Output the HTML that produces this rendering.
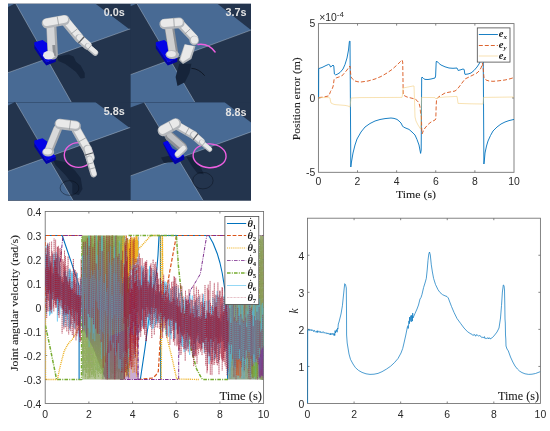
<!DOCTYPE html>
<html><head><meta charset="utf-8"><title>Figure</title>
<style>html,body{margin:0;padding:0;background:#fff}svg{display:block}</style>
</head><body>
<svg width="550" height="431" viewBox="0 0 550 431">
<rect width="550" height="431" fill="#fff"/>
<defs><clipPath id="cp1"><rect x="8" y="3.7" width="122.6" height="98.8"/></clipPath><clipPath id="cp2"><rect x="130.4" y="3.7" width="120.6" height="98.8"/></clipPath><clipPath id="cp3"><rect x="8" y="102.3" width="122.6" height="98.3"/></clipPath><clipPath id="cp4"><rect x="130.4" y="102.3" width="120.6" height="98.3"/></clipPath></defs>
<rect x="8" y="3.7" width="243" height="196.9" fill="#23344d"/>
<g clip-path="url(#cp1)">
<rect x="8" y="3.7" width="122.4" height="98.6" fill="#23344d"/>
<polygon points="15.8,3.7 95.5,3.7 130.4,30.0 130.4,28.8 46.9,58.8" fill="#486a94" />
<polygon points="8.0,72.7 46.9,58.8 71.4,102.3 8.0,102.3" fill="#486a94" />
<polygon points="8.0,3.7 14.5,3.7 8.0,6.9" fill="#486a94" />
<path d="M15.8,3.7L71.4,102.3M8,72.7L130.4,28.8" stroke="#cfd9e6" stroke-opacity="0.7" stroke-width="0.55" fill="none"/>
<polygon points="57.5,56.6 68.6,54.4 73.6,56.6 76.0,61.8 80.7,65.5 84.7,72.9 84.7,78.1 80.7,78.5 76.0,72.0 70.5,67.7 64.9,63.7 58.4,60.9" fill="#16243a" />
<polygon points="34.3,44.8 43.3,58.3 46.5,62.2 55.8,58.5 55.8,61.8 46.3,65.6 43.3,61.8 34.3,48.2" fill="#0000a8" />
<polygon points="34.3,42.3 42.6,39.9 47.5,43.5 47.5,52.5 54.7,56.6 55.8,58.5 46.5,62.2 43.3,58.3 34.3,44.8" fill="#0404e6" />
<path d="M52.8,54.5L51.4,27.5" stroke="#a6a9ad" stroke-width="10.2" stroke-linecap="round" fill="none"/>
<path d="M51.9,54.3L50.5,27.3" stroke="#d4d5d7" stroke-width="7.343999999999999" stroke-linecap="round" fill="none"/>
<path d="M54.6,56.0L53.8,45.0" stroke="#8d9095" stroke-width="3.0" stroke-linecap="butt" fill="none"/>
<ellipse cx="48.6" cy="55.2" rx="5.6" ry="4.2" fill="#e9e9e9"/>
<path d="M66.4,22.5L79.4,38.2" stroke="#b4b7bb" stroke-width="9.4" stroke-linecap="round" fill="none"/>
<path d="M67.0,21.7L80.0,37.4" stroke="#e9e9e9" stroke-width="6.768" stroke-linecap="round" fill="none"/>
<path d="M79.4,38.2L87.6,45.6" stroke="#b4b7bb" stroke-width="8.6" stroke-linecap="round" fill="none"/>
<path d="M79.9,37.5L88.1,44.9" stroke="#e9e9e9" stroke-width="6.191999999999999" stroke-linecap="round" fill="none"/>
<path d="M87.6,46.2L95.2,52.8" stroke="#b4b7bb" stroke-width="6.0" stroke-linecap="round" fill="none"/>
<path d="M88.0,45.6L95.6,52.2" stroke="#e9e9e9" stroke-width="4.32" stroke-linecap="round" fill="none"/>
<path d="M70.5,34.4L77.5,28.8" stroke="#8d9095" stroke-width="0.7" fill="none"/>
<path d="M78.4,43.1L84.2,36.7" stroke="#5a5d63" stroke-width="1.3" fill="none"/>
<path d="M87.4,49.9L91.6,45.1" stroke="#8d9095" stroke-width="0.7" fill="none"/>
<path d="M46.8,23.2L64.6,20.0" stroke="#b4b7bb" stroke-width="10.2" stroke-linecap="round" fill="none"/>
<path d="M46.6,22.3L64.4,19.1" stroke="#e9e9e9" stroke-width="7.343999999999999" stroke-linecap="round" fill="none"/>
<path d="M57.2,16.4L58.8,25.6" stroke="#8d9095" stroke-width="0.7" fill="none"/>
<text x="103.8" y="16.3" font-family='"Liberation Sans", sans-serif' font-weight="bold" font-size="10.8" fill="#e4e4e4">0.0s</text>
</g>
<g clip-path="url(#cp2)">
<rect x="130.4" y="3.7" width="120.6" height="98.6" fill="#23344d"/>
<polygon points="137.0,3.7 217.4,3.7 251.0,30.1 251.0,30.1 170.1,60.0" fill="#486a94" />
<polygon points="130.4,74.7 170.1,60.0 194.9,102.3 130.4,102.3" fill="#486a94" />
<polygon points="130.4,3.7 136.5,3.7 130.4,6.2" fill="#486a94" />
<path d="M137.0,3.7L194.9,102.3M130.4,74.7L251.0,30.1" stroke="#cfd9e6" stroke-opacity="0.7" stroke-width="0.55" fill="none"/>
<polygon points="179.3,63.7 191.4,63.7 189.5,72.9 184.9,82.2 177.5,85.9 175.6,77.0" fill="#16243a" />
<path d="M191.4,68.3Q198.8,68.6 204.7,75.7" stroke="#080d16" stroke-width="0.7" fill="none"/>
<path d="M197.9,44.5Q208.5,43 215.1,52" stroke="#ee5fe0" stroke-width="1.4" fill="none" stroke-linecap="round"/>
<polygon points="155.8,44.8 164.8,58.3 168.0,62.2 177.3,58.5 177.3,61.8 167.8,65.6 164.8,61.8 155.8,48.2" fill="#0000a8" />
<polygon points="155.8,42.3 164.1,39.9 169.0,43.5 169.0,52.5 176.2,56.6 177.3,58.5 168.0,62.2 164.8,58.3 155.8,44.8" fill="#0404e6" />
<path d="M173.3,52.5L169.5,28.6" stroke="#8d9095" stroke-width="9.6" stroke-linecap="round" fill="none"/>
<path d="M172.5,52.3L168.7,28.4" stroke="#cfcfcf" stroke-width="6.912" stroke-linecap="round" fill="none"/>
<ellipse cx="172.3" cy="54.6" rx="6.8" ry="4.4" fill="#b4b7bb"/><ellipse cx="171.3" cy="54" rx="4.6" ry="3" fill="#e9e9e9"/>
<path d="M181.6,25.2L194.0,38.4" stroke="#b4b7bb" stroke-width="8.6" stroke-linecap="round" fill="none"/>
<path d="M182.1,24.5L194.5,37.7" stroke="#e9e9e9" stroke-width="6.191999999999999" stroke-linecap="round" fill="none"/>
<circle cx="194.2" cy="40.5" r="4.7" fill="#b4b7bb"/><circle cx="194.5" cy="39.9" r="3.6" fill="#e9e9e9"/>
<polygon points="184.5,44.2 195.5,46.0 191.4,59.0 183.0,64.0 179.0,60.3" fill="#b4b7bb" />
<polygon points="185.0,44.6 193.8,46.2 189.8,57.6 182.8,62.0 180.3,59.6" fill="#e9e9e9" />
<path d="M184.4,34.4L190.6,28.6" stroke="#8d9095" stroke-width="0.7" fill="none"/>
<path d="M164.7,24.0L179.2,22.9" stroke="#b4b7bb" stroke-width="10.6" stroke-linecap="round" fill="none"/>
<path d="M164.5,23.1L179.0,22.0" stroke="#e9e9e9" stroke-width="7.632" stroke-linecap="round" fill="none"/>
<path d="M173.7,17.6L174.3,27.2" stroke="#8d9095" stroke-width="0.7" fill="none"/>
<text x="225.6" y="16.3" font-family='"Liberation Sans", sans-serif' font-weight="bold" font-size="10.8" fill="#e4e4e4">3.7s</text>
</g>
<g clip-path="url(#cp3)">
<rect x="8" y="102.3" width="122.4" height="98.3" fill="#23344d"/>
<polygon points="15.8,102.3 95.5,102.3 130.4,128.6 130.4,127.4 47.8,157.0" fill="#486a94" />
<polygon points="8.0,171.3 47.8,157.0 73.2,200.6 8.0,200.6" fill="#486a94" />
<polygon points="8.0,102.3 14.5,102.3 8.0,105.5" fill="#486a94" />
<path d="M15.8,102.3L73.2,200.6M8,171.3L130.4,127.4" stroke="#cfd9e6" stroke-opacity="0.7" stroke-width="0.55" fill="none"/>
<polygon points="52.8,159.5 65.8,162.3 75.1,170.7 80.7,178.0 82.5,189.0 78.8,195.0 72.3,193.8 72.3,183.7 64.9,174.4 55.6,165.0" fill="#16243a" />
<ellipse cx="69.5" cy="188" rx="9.4" ry="7.4" stroke="#080d16" stroke-opacity="0.7" stroke-width="0.6" fill="none"/>
<ellipse cx="78.5" cy="155" rx="14.2" ry="12.4" stroke="#ee5fe0" stroke-width="1.4" fill="none"/>
<polygon points="34.3,143.1 43.3,156.6 46.5,160.5 55.8,156.8 55.8,160.1 46.3,163.9 43.3,160.1 34.3,146.5" fill="#0000a8" />
<polygon points="34.3,140.6 42.6,138.2 47.5,141.8 47.5,150.8 54.7,154.9 55.8,156.8 46.5,160.5 43.3,156.6 34.3,143.1" fill="#0404e6" />
<path d="M48.8,150.5L57.6,129.0" stroke="#a6a9ad" stroke-width="8.6" stroke-linecap="round" fill="none"/>
<path d="M48.1,150.2L56.9,128.7" stroke="#d8d9da" stroke-width="6.191999999999999" stroke-linecap="round" fill="none"/>
<ellipse cx="48.2" cy="152.1" rx="6" ry="4.4" fill="#b4b7bb"/><ellipse cx="47.6" cy="151.5" rx="4.4" ry="3" fill="#e9e9e9"/>
<path d="M76.2,129.8L87.2,149.3" stroke="#b4b7bb" stroke-width="9.4" stroke-linecap="round" fill="none"/>
<path d="M76.8,129.3L87.8,148.8" stroke="#e9e9e9" stroke-width="6.768" stroke-linecap="round" fill="none"/>
<path d="M87.4,149.3L90.2,157.7" stroke="#b4b7bb" stroke-width="9.2" stroke-linecap="round" fill="none"/>
<path d="M88.0,149.0L90.8,157.4" stroke="#e9e9e9" stroke-width="6.624" stroke-linecap="round" fill="none"/>
<path d="M89.2,159.0L93.6,174.0" stroke="#b4b7bb" stroke-width="6.6" stroke-linecap="round" fill="none"/>
<path d="M89.7,158.7L94.1,173.7" stroke="#e9e9e9" stroke-width="4.752" stroke-linecap="round" fill="none"/>
<path d="M78.1,142.2L85.9,137.8" stroke="#8d9095" stroke-width="0.7" fill="none"/>
<path d="M84.5,155.3L93.1,152.7" stroke="#5a5d63" stroke-width="1.2" fill="none"/>
<path d="M87.1,164.5L93.9,162.5" stroke="#8d9095" stroke-width="0.7" fill="none"/>
<path d="M88.8,169.4L95.2,167.6" stroke="#8d9095" stroke-width="0.7" fill="none"/>
<path d="M59.8,124.0L75.6,126.0" stroke="#b4b7bb" stroke-width="10.4" stroke-linecap="round" fill="none"/>
<path d="M59.7,123.1L75.5,125.1" stroke="#e9e9e9" stroke-width="7.4879999999999995" stroke-linecap="round" fill="none"/>
<path d="M70.6,120.0L69.4,129.6" stroke="#8d9095" stroke-width="0.7" fill="none"/>
<text x="103.8" y="115.2" font-family='"Liberation Sans", sans-serif' font-weight="bold" font-size="10.8" fill="#e4e4e4">5.8s</text>
</g>
<g clip-path="url(#cp4)">
<rect x="130.4" y="102.3" width="120.6" height="98.3" fill="#23344d"/>
<polygon points="144.2,102.3 224.6,102.3 251.0,122.5 251.0,131.9 178.0,158.5" fill="#486a94" />
<polygon points="130.4,175.9 178.0,158.5 203.2,200.6 130.4,200.6" fill="#486a94" />
<polygon points="130.4,102.3 145.0,102.3 130.4,107.5" fill="#486a94" />
<path d="M144.2,102.3L203.2,200.6M130.4,175.9L251.0,131.9" stroke="#cfd9e6" stroke-opacity="0.7" stroke-width="0.55" fill="none"/>
<polygon points="161.0,157.4 170.4,155.6 174.0,162.0 164.0,163.0" fill="#16243a" />
<polygon points="186.2,156.5 193.6,157.5 201.0,167.7 203.8,174.2 197.3,173.2 191.7,165.8" fill="#16243a" />
<ellipse cx="202.9" cy="180.6" rx="10.2" ry="8.3" stroke="#080d16" stroke-opacity="0.7" stroke-width="0.6" fill="none"/>
<ellipse cx="209.6" cy="155.8" rx="16.5" ry="11.9" transform="rotate(3 209.6 155.8)" stroke="#ee5fe0" stroke-width="1.4" fill="none"/>
<polygon points="163.0,143.8 167.6,141.5 172.3,149.5 184.3,156.2 184.3,159.6 175.0,164.3 170.4,158.6" fill="#0000a8" />
<polygon points="163.0,142.6 167.6,140.6 172.3,148.2 184.3,155.4 175.0,160.6 170.4,155.2" fill="#0404e6" />
<path d="M169.5,136.1L182.3,147.1" stroke="#8d9095" stroke-width="9.4" stroke-linecap="round" fill="none"/>
<path d="M169.8,135.3L182.6,146.3" stroke="#bfc1c4" stroke-width="5.64" stroke-linecap="round" fill="none"/>
<path d="M184.0,148.6L178.0,154.4" stroke="#b4b7bb" stroke-width="6.6" stroke-linecap="round" fill="none"/>
<path d="M183.5,148.1L177.5,153.9" stroke="#e9e9e9" stroke-width="4.752" stroke-linecap="round" fill="none"/>
<path d="M178.4,126.4L193.6,135.2" stroke="#b4b7bb" stroke-width="8.4" stroke-linecap="round" fill="none"/>
<path d="M178.8,125.7L194.0,134.5" stroke="#e9e9e9" stroke-width="6.048" stroke-linecap="round" fill="none"/>
<path d="M193.6,135.2L201.0,141.7" stroke="#b4b7bb" stroke-width="7.8" stroke-linecap="round" fill="none"/>
<path d="M194.0,134.6L201.4,141.1" stroke="#e9e9e9" stroke-width="5.616" stroke-linecap="round" fill="none"/>
<path d="M201.4,142.3L209.6,149.4" stroke="#b4b7bb" stroke-width="5.2" stroke-linecap="round" fill="none"/>
<path d="M201.7,141.8L209.9,148.9" stroke="#e9e9e9" stroke-width="3.7439999999999998" stroke-linecap="round" fill="none"/>
<path d="M185.0,134.8L189.0,127.8" stroke="#8d9095" stroke-width="0.7" fill="none"/>
<path d="M193.0,139.9L198.0,133.7" stroke="#5a5d63" stroke-width="1.2" fill="none"/>
<path d="M201.7,146.1L205.3,141.9" stroke="#8d9095" stroke-width="0.7" fill="none"/>
<path d="M163.2,130.6L175.6,123.8" stroke="#b4b7bb" stroke-width="11.2" stroke-linecap="round" fill="none"/>
<path d="M162.8,129.8L175.2,123.0" stroke="#e9e9e9" stroke-width="8.064" stroke-linecap="round" fill="none"/>
<path d="M168.7,121.2L173.3,130.4" stroke="#8d9095" stroke-width="0.7" fill="none"/>
<text x="225.6" y="115.5" font-family='"Liberation Sans", sans-serif' font-weight="bold" font-size="10.8" fill="#e4e4e4">8.8s</text>
</g>
<g id="tr">
<rect x="318.4" y="23.6" width="195.60" height="148.70" fill="#fff" stroke="#6e6e6e" stroke-width="0.85"/>
<path d="M357.52,172.3v-2.0M357.52,23.6v2.0M396.64,172.3v-2.0M396.64,23.6v2.0M435.76,172.3v-2.0M435.76,23.6v2.0M474.88,172.3v-2.0M474.88,23.6v2.0M318.4,97.95h2.0M514.0,97.95h-2.0" stroke="#6e6e6e" stroke-width="0.85" fill="none"/>
<polyline points="318.6,97.6 318.7,68.6 322.0,67.5 326.0,65.5 328.6,64.4 329.4,64.6 330.6,67.0 332.0,66.0 333.0,65.0 333.8,66.0 334.4,74.0 335.5,74.8 337.0,74.4 340.0,72.5 343.0,69.0 345.0,64.5 347.0,58.0 348.5,50.0 349.4,41.4 350.0,41.0 350.4,100.0 350.8,167.0 351.3,163.0 353.0,153.0 355.0,145.0 357.0,139.0 361.0,132.0 365.0,127.0 370.0,123.5 375.0,121.0 380.0,119.5 385.0,118.6 391.0,118.0 394.0,118.4 397.0,119.4 399.0,121.0 401.0,123.0 402.5,126.0 403.4,127.0 406.0,128.2 409.0,129.4 412.0,132.0 415.0,135.0 417.0,139.5 419.0,145.0 420.6,153.4 421.2,150.0 421.4,120.0 421.7,78.0 422.0,77.0 423.5,78.5 425.0,79.4 428.0,79.5 431.0,79.0 435.0,78.0 435.6,76.0 436.2,62.0 436.6,61.0 438.5,63.0 441.0,65.0 445.0,66.8 449.0,68.0 453.0,68.3 457.0,68.0 457.6,69.5 458.0,70.4 460.0,70.0 463.0,69.0 464.2,69.5 464.8,74.0 465.0,74.4 468.0,74.0 471.0,73.0 474.0,70.5 477.0,67.0 479.0,64.0 481.0,60.0 482.0,56.5 482.8,52.0 483.2,52.0 483.5,100.0 483.9,164.0 484.4,160.0 485.0,153.0 486.5,146.0 488.0,141.0 490.5,135.5 493.0,131.0 497.0,127.0 501.0,124.0 505.0,122.0 509.0,120.6 514.0,119.4" fill="none" stroke="#0072BD" stroke-width="0.9" stroke-linejoin="round"/>
<polyline points="318.6,97.6 324.0,97.0 328.6,95.9 329.6,94.0 330.5,91.5 332.3,88.6 333.2,86.0 334.1,79.5 335.0,78.5 336.5,77.8 341.8,76.0 344.0,73.5 347.0,70.0 349.0,67.0 350.0,66.0 350.5,72.0 351.0,77.0 353.0,79.5 355.0,81.0 358.0,81.8 361.0,82.0 368.0,81.0 375.0,79.0 381.0,76.5 387.0,73.0 392.0,69.5 397.0,65.0 400.0,62.0 402.0,60.0 402.7,62.0 403.0,80.0 403.2,95.0 405.0,96.0 407.0,97.0 411.0,98.0 415.0,99.0 417.0,100.5 419.0,103.0 420.0,107.0 420.6,113.0 421.4,117.0 421.7,128.0 422.0,134.0 423.5,130.5 425.0,128.0 428.0,124.5 431.0,122.0 435.0,120.0 435.8,119.0 436.2,105.0 436.6,99.0 438.0,97.5 440.0,96.0 445.0,93.0 450.0,92.0 455.0,91.0 457.0,89.5 459.0,87.0 462.0,83.0 465.0,79.0 468.0,77.5 471.0,76.0 474.0,74.5 477.0,73.0 479.0,71.0 481.0,68.0 482.6,63.0 483.3,70.0 484.0,78.0 486.0,80.0 489.0,81.0 493.0,81.3 497.0,81.0 505.0,80.0 510.0,78.8 514.0,77.6" fill="none" stroke="#D95319" stroke-width="0.9" stroke-dasharray="4 2" stroke-linejoin="round"/>
<polyline points="318.6,97.6 328.6,97.6 330.0,98.0 330.5,101.0 331.0,103.0 333.0,104.0 335.0,104.6 340.0,105.0 345.0,105.4 348.0,106.0 350.0,107.0 350.6,102.0 351.0,98.0 360.0,97.6 402.0,97.4 402.8,93.0 403.0,88.0 408.0,87.0 413.0,86.0 414.0,86.0 414.5,100.0 415.0,117.0 416.0,121.0 418.0,125.0 420.6,129.0 421.2,110.0 421.5,97.4 435.0,97.6 436.0,99.0 437.0,97.8 445.0,97.0 457.0,96.4 457.6,100.0 458.0,103.4 470.0,103.8 483.0,104.0 483.5,97.4 514.0,97.0" fill="none" stroke="#F3CF80" stroke-width="0.6" stroke-linejoin="round"/>
<rect x="477.3" y="27.9" width="32.7" height="34.2" fill="#fff" stroke="#4a4a4a" stroke-width="0.8"/>
<path d="M478.8,34.5H497.9" stroke="#0072BD" stroke-width="0.9"/>
<path d="M478.8,45.5H497.9" stroke="#D95319" stroke-width="0.9" stroke-dasharray="4 2"/>
<path d="M478.8,56H497.9" stroke="#F3CF80" stroke-width="0.6"/>
<text x="498.8" y="37" font-family='"Liberation Serif", serif' font-style="italic" font-weight="bold" font-size="10.5" fill="#161616">e<tspan font-size="7" dy="1.8">x</tspan></text>
<text x="498.8" y="48" font-family='"Liberation Serif", serif' font-style="italic" font-weight="bold" font-size="10.5" fill="#161616">e<tspan font-size="7" dy="1.8">y</tspan></text>
<text x="498.8" y="58.6" font-family='"Liberation Serif", serif' font-style="italic" font-weight="bold" font-size="10.5" fill="#161616">e<tspan font-size="7" dy="1.8">z</tspan></text>
<text transform="translate(318.4,185.3) scale(1.04,1)" text-anchor="middle" font-family='"Liberation Sans", sans-serif' font-size="10" fill="#2a2a2a">0</text>
<text transform="translate(357.5,185.3) scale(1.04,1)" text-anchor="middle" font-family='"Liberation Sans", sans-serif' font-size="10" fill="#2a2a2a">2</text>
<text transform="translate(396.6,185.3) scale(1.04,1)" text-anchor="middle" font-family='"Liberation Sans", sans-serif' font-size="10" fill="#2a2a2a">4</text>
<text transform="translate(435.8,185.3) scale(1.04,1)" text-anchor="middle" font-family='"Liberation Sans", sans-serif' font-size="10" fill="#2a2a2a">6</text>
<text transform="translate(474.9,185.3) scale(1.04,1)" text-anchor="middle" font-family='"Liberation Sans", sans-serif' font-size="10" fill="#2a2a2a">8</text>
<text transform="translate(514.0,185.3) scale(1.04,1)" text-anchor="middle" font-family='"Liberation Sans", sans-serif' font-size="10" fill="#2a2a2a">10</text>
<text transform="translate(315.2,27.2) scale(1.04,1)" text-anchor="end" font-family='"Liberation Sans", sans-serif' font-size="10" fill="#2a2a2a">5</text>
<text transform="translate(315.2,101.5) scale(1.04,1)" text-anchor="end" font-family='"Liberation Sans", sans-serif' font-size="10" fill="#2a2a2a">0</text>
<text transform="translate(315.2,175.9) scale(1.04,1)" text-anchor="end" font-family='"Liberation Sans", sans-serif' font-size="10" fill="#2a2a2a">-5</text>
<text transform="translate(319.2,21.0) scale(1.04,1)" text-anchor="start" font-family='"Liberation Sans", sans-serif' font-size="10" fill="#2a2a2a">×10<tspan font-size="7.6" dy="-4.2">-4</tspan></text>
<text x="416" y="197.6" text-anchor="middle" textLength="40" lengthAdjust="spacingAndGlyphs" font-family='"Liberation Serif", serif'  font-size="10.8" fill="#1c1c1c" stroke="#1c1c1c" stroke-width="0.1">Time (s)</text>
<text transform="translate(299.5,98.8) rotate(-90)" text-anchor="middle" textLength="83" lengthAdjust="spacingAndGlyphs" font-family='"Liberation Serif", serif'  font-size="10.8" fill="#1c1c1c" stroke="#1c1c1c" stroke-width="0.1">Position error (m)</text>
</g>
<g id="br">
<rect x="307.5" y="218.2" width="232.90" height="185.30" fill="#fff" stroke="#6e6e6e" stroke-width="0.85"/>
<path d="M354.08,403.5v-2.0M354.08,218.2v2.0M400.66,403.5v-2.0M400.66,218.2v2.0M447.24,403.5v-2.0M447.24,218.2v2.0M493.82,403.5v-2.0M493.82,218.2v2.0M307.5,366.44h2.0M540.4,366.44h-2.0M307.5,329.38h2.0M540.4,329.38h-2.0M307.5,292.32h2.0M540.4,292.32h-2.0M307.5,255.26h2.0M540.4,255.26h-2.0" stroke="#6e6e6e" stroke-width="0.85" fill="none"/>
<polyline points="307.6,403.0 307.7,330.0 308.0,329.6 308.4,329.4 308.9,330.5 309.3,329.4 309.8,330.4 310.2,330.1 310.7,329.6 311.1,330.6 311.6,329.7 312.0,330.6 312.5,329.9 312.9,330.0 313.4,330.8 313.8,331.7 314.3,330.3 314.7,330.6 315.2,331.5 315.6,332.2 316.1,331.6 316.5,331.3 317.0,332.5 317.4,330.7 317.9,332.4 318.3,331.4 318.8,331.2 319.2,331.2 319.7,331.6 320.1,332.7 320.6,331.5 321.0,332.4 321.5,332.6 321.9,332.2 322.4,332.6 322.8,331.7 323.3,331.8 323.7,332.1 324.2,333.2 324.6,332.7 325.1,332.6 325.5,333.2 326.0,333.0 326.4,332.8 326.9,333.9 327.3,333.7 327.8,332.9 328.2,333.7 328.7,333.6 329.1,334.4 329.6,334.2 330.0,333.4 330.5,334.9 330.9,333.2 331.4,333.9 331.8,334.6 332.3,333.5 332.7,334.3 333.2,333.4 333.6,334.8 334.1,335.6 334.4,333.6 334.8,335.4 335.1,330.6 335.5,333.0 335.8,331.7 336.2,331.0 336.5,329.6 336.9,331.9 337.2,332.2 337.6,328.2 337.9,329.1 338.3,324.0 339.0,322.0 341.0,314.0 342.4,305.8 343.5,295.0 344.7,283.7 345.5,284.5 346.3,288.0 346.5,310.0 346.6,335.0 347.2,343.0 348.0,348.0 349.0,354.0 350.5,359.4 353.0,364.0 355.4,367.6 358.5,370.4 362.0,372.4 366.0,373.8 370.0,374.4 374.0,374.2 378.0,373.4 382.0,371.7 386.3,369.2 390.5,366.3 394.4,362.7 398.0,358.5 401.0,353.0 402.7,348.5 404.0,343.0 405.8,335.0 407.4,327.0 407.6,326.7 407.9,325.7 408.2,328.5 408.5,326.5 408.8,320.9 409.1,321.4 409.4,323.7 409.7,317.1 410.0,320.8 410.3,317.5 410.6,316.6 410.9,315.6 411.2,321.9 411.5,315.4 411.8,316.1 412.1,317.0 412.4,321.1 412.7,313.1 413.0,318.0 415.0,313.5 417.0,309.0 418.5,305.0 420.0,299.0 421.0,297.5 422.0,294.4 423.6,287.5 425.0,283.0 426.3,278.4 427.2,270.0 428.0,260.3 428.8,254.0 429.5,252.0 430.3,255.0 431.3,264.8 432.4,272.0 433.6,278.4 435.5,284.5 438.0,289.7 440.0,292.5 442.6,294.7 445.0,295.8 447.0,296.5 448.3,298.0 449.4,301.0 451.5,306.5 454.0,312.4 457.0,318.5 460.8,323.7 464.0,328.0 467.6,331.8 471.0,334.0 471.4,334.0 471.9,334.3 472.4,335.1 472.9,335.1 473.4,335.4 473.9,334.3 474.4,334.7 474.9,334.7 475.4,335.9 475.9,336.2 476.4,334.7 476.9,334.9 477.4,335.1 477.9,335.3 478.4,335.9 478.9,336.3 479.4,335.7 479.9,335.4 480.4,336.3 480.9,336.3 481.4,336.9 481.9,337.8 482.4,337.4 482.9,337.2 483.4,337.5 483.9,337.7 484.4,336.6 484.9,338.5 485.4,338.3 485.9,338.7 486.4,338.6 486.9,338.0 487.4,338.1 487.9,337.7 488.4,338.8 488.9,337.8 489.4,338.0 489.9,338.4 490.0,339.0 492.5,337.5 494.7,335.0 497.0,332.0 499.0,328.0 500.5,318.0 501.5,305.6 502.4,292.0 503.3,285.0 504.0,285.5 504.5,290.0 504.8,305.0 505.0,319.0 505.3,323.0 505.5,335.0 505.8,339.0 506.0,346.0 507.0,349.0 508.3,350.9 510.5,357.0 512.8,362.0 515.0,366.0 517.4,369.0 519.7,371.2 522.0,372.6 525.0,373.8 528.7,374.4 532.0,374.2 535.5,373.5 540.2,371.7" fill="none" stroke="#0072BD" stroke-width="0.7" stroke-linejoin="round"/>
<text transform="translate(307.5,417.6) scale(0.95,1)" text-anchor="middle" font-family='"Liberation Sans", sans-serif' font-size="11" fill="#2a2a2a">0</text>
<text transform="translate(354.1,417.6) scale(0.95,1)" text-anchor="middle" font-family='"Liberation Sans", sans-serif' font-size="11" fill="#2a2a2a">2</text>
<text transform="translate(400.7,417.6) scale(0.95,1)" text-anchor="middle" font-family='"Liberation Sans", sans-serif' font-size="11" fill="#2a2a2a">4</text>
<text transform="translate(447.2,417.6) scale(0.95,1)" text-anchor="middle" font-family='"Liberation Sans", sans-serif' font-size="11" fill="#2a2a2a">6</text>
<text transform="translate(493.8,417.6) scale(0.95,1)" text-anchor="middle" font-family='"Liberation Sans", sans-serif' font-size="11" fill="#2a2a2a">8</text>
<text transform="translate(540.4,417.6) scale(0.95,1)" text-anchor="middle" font-family='"Liberation Sans", sans-serif' font-size="11" fill="#2a2a2a">10</text>
<text transform="translate(304.2,407.7) scale(0.95,1)" text-anchor="end" font-family='"Liberation Sans", sans-serif' font-size="11" fill="#2a2a2a">0</text>
<text transform="translate(304.2,370.6) scale(0.95,1)" text-anchor="end" font-family='"Liberation Sans", sans-serif' font-size="11" fill="#2a2a2a">1</text>
<text transform="translate(304.2,333.6) scale(0.95,1)" text-anchor="end" font-family='"Liberation Sans", sans-serif' font-size="11" fill="#2a2a2a">2</text>
<text transform="translate(304.2,296.5) scale(0.95,1)" text-anchor="end" font-family='"Liberation Sans", sans-serif' font-size="11" fill="#2a2a2a">3</text>
<text transform="translate(304.2,259.5) scale(0.95,1)" text-anchor="end" font-family='"Liberation Sans", sans-serif' font-size="11" fill="#2a2a2a">4</text>
<text x="539" y="399.6" text-anchor="end" textLength="41" lengthAdjust="spacingAndGlyphs" font-family='"Liberation Serif", serif'  font-size="12.3" fill="#1c1c1c" stroke="#1c1c1c" stroke-width="0.1">Time (s)</text>
<text transform="translate(298,311) rotate(-90)" text-anchor="middle" font-family='"Liberation Serif", serif' font-style="italic" font-size="11.5" fill="#222">k</text>
</g>
<g id="bl">
<rect x="45.2" y="211.5" width="218.40" height="192.00" fill="#fff" stroke="#6e6e6e" stroke-width="0.85"/>
<path d="M88.88,403.5v-2.0M88.88,211.5v2.0M132.56,403.5v-2.0M132.56,211.5v2.0M176.24,403.5v-2.0M176.24,211.5v2.0M219.92,403.5v-2.0M219.92,211.5v2.0M45.2,379.50h2.0M263.6,379.50h-2.0M45.2,355.50h2.0M263.6,355.50h-2.0M45.2,331.50h2.0M263.6,331.50h-2.0M45.2,307.50h2.0M263.6,307.50h-2.0M45.2,283.50h2.0M263.6,283.50h-2.0M45.2,259.50h2.0M263.6,259.50h-2.0M45.2,235.50h2.0M263.6,235.50h-2.0" stroke="#6e6e6e" stroke-width="0.85" fill="none"/>
<clipPath id="blc"><rect x="45.2" y="211.5" width="218.40" height="192.00"/></clipPath>
<g clip-path="url(#blc)">
<polyline points="45.2,235.5 62.2,235.5 71.4,262.6 79.1,285.9 79.1,379.5 82.3,379.5" fill="none" stroke="#0072BD" stroke-width="1.1" stroke-linejoin="round"/>
<polyline points="82.3,265.1 83.1,375.4 83.9,262.1 84.7,335.5 85.5,255.5 86.4,330.6 87.0,284.6 88.0,362.9 88.5,236.5 89.5,360.8 90.4,281.0 90.8,354.0 91.3,279.2 91.9,327.1 92.7,265.7 93.7,353.5 94.5,262.5 95.4,350.2 96.0,235.6 97.1,370.9 98.0,272.5 98.6,341.1 99.1,248.1 99.8,371.2 100.5,237.8 101.4,325.5 102.0,240.3 102.8,378.4 103.5,285.6 104.3,367.5 104.9,284.8 105.6,377.6 106.5,283.1 107.1,331.0 107.6,246.5 108.2,355.7 108.9,279.2 109.8,332.6 110.7,283.2 111.4,337.0 112.0,237.1 113.0,341.9 114.0,278.1 114.7,371.6 115.5,284.1 116.6,337.0 117.2,247.8 117.9,341.5 118.4,284.6 119.2,338.6 120.0,269.4 120.7,377.3 121.5,258.5 122.5,335.4 123.0,240.4 124.0,339.0 124.6,249.6 125.6,336.1 126.6,241.9 127.5,348.3 128.0,287.4 129.0,338.4 129.9,275.6 130.9,357.7 131.5,280.0 132.4,329.2 133.0,259.3 134.0,358.7 134.6,240.0 135.2,326.4 135.8,265.4 136.3,335.0 137.0,258.6 137.6,345.1 138.6,236.6" fill="none" stroke="#0072BD" stroke-width="0.5" stroke-opacity="0.8" stroke-linejoin="round"/>
<polyline points="139.1,379.5 140.4,379.0 145.0,348.0 149.4,315.3 153.0,295.0 156.5,273.0 158.0,255.0 159.0,236.0 159.6,235.5 160.4,235.5 160.6,379.5" fill="none" stroke="#0072BD" stroke-width="1.1" stroke-linejoin="round"/>
<polyline points="160.6,235.5 208.8,235.5 213.0,243.0 217.3,253.7 220.0,263.0 222.2,273.0 224.6,287.7 226.5,305.0 227.6,330.0 227.6,379.5" fill="none" stroke="#0072BD" stroke-width="1.1" stroke-linejoin="round"/>
<polyline points="227.8,315.8 228.7,356.1 229.3,333.4 230.4,371.2 231.6,332.3 232.6,364.9 233.6,323.0 234.8,352.9 235.8,309.8 236.9,371.8 237.9,306.8 239.1,360.2 240.1,302.2 241.2,361.8 242.3,302.0 243.2,367.9 244.0,309.6 245.0,350.7 245.9,295.5 247.1,370.8 247.9,302.5 248.8,361.4 249.9,322.5 251.0,347.7 251.9,308.5 252.6,369.5 253.5,303.2 254.6,354.4 255.2,312.8 256.2,352.3 256.8,291.3 257.8,360.2 258.9,310.1 259.9,351.4 260.7,292.3 261.9,375.2 262.7,299.0 263.4,348.4" fill="none" stroke="#0072BD" stroke-width="0.5" stroke-opacity="0.5" stroke-linejoin="round"/>
<polyline points="45.2,307.5 45.2,235.5 82.3,235.5" fill="none" stroke="#D95319" stroke-width="1.2" stroke-dasharray="3.8 1.8" stroke-linejoin="round"/>
<polyline points="82.3,244.3 83.4,363.9 84.6,274.6 85.3,349.8 86.0,277.9 86.8,359.3 87.7,272.5 88.8,378.5 89.6,285.5 90.2,372.6 90.7,251.2 91.6,342.2 92.7,288.5 93.3,350.1 93.9,244.7 94.6,333.1 95.1,255.5 96.0,359.5 97.0,245.9 98.1,362.5 98.8,263.8 99.5,326.1 100.3,250.9 101.0,340.2 101.7,251.8 102.6,358.7 103.7,268.3 104.7,374.4 105.3,239.1 106.4,332.5 107.2,255.7 108.4,345.8 109.3,242.0 110.4,376.5 111.2,254.3 111.9,364.5 113.0,254.9 114.0,337.0 115.2,236.6 116.4,354.5 117.4,272.2 118.6,371.7 119.4,285.0 120.2,355.2 121.3,263.2 121.8,369.2 122.4,246.3 123.0,343.6 124.1,281.9 124.7,353.4 125.7,244.1 126.8,376.6 127.6,238.2 128.2,337.5 129.1,273.8 130.1,360.0 131.0,243.9 131.9,342.3 132.7,243.9 133.9,336.7 135.0,237.2 135.9,356.4 136.6,260.6 137.4,358.2 138.0,237.2" fill="none" stroke="#D95319" stroke-width="0.5" stroke-dasharray="3.8 1.8" stroke-opacity="0.8" stroke-linejoin="round"/>
<polyline points="138.0,379.5 153.0,378.0 156.0,375.0 158.3,371.5 159.5,352.0 160.8,330.6 164.7,300.0 170.0,270.0 176.0,237.8 176.5,235.5 228.7,235.5" fill="none" stroke="#D95319" stroke-width="1.2" stroke-dasharray="3.8 1.8" stroke-linejoin="round"/>
<polyline points="228.7,267.9 229.5,355.9 230.1,252.2 230.5,354.6 231.2,237.8 232.0,340.0 232.7,282.6 233.3,369.5 234.2,263.8 234.7,335.8 235.4,239.5 235.9,367.6 236.3,279.0 236.8,362.6 237.4,270.3 238.1,331.2 238.9,282.9 239.5,339.0 240.0,260.9 240.7,345.8 241.3,260.9 241.7,336.5 242.5,255.0 243.1,371.5 243.8,243.2 244.4,365.5 245.2,240.8 245.7,342.5 246.6,277.7 247.5,373.4 248.0,276.6 248.8,339.5 249.2,244.6 249.8,368.2 250.3,267.7 251.0,326.5 251.5,252.7 252.4,377.8 252.9,262.2 253.7,352.7 254.4,279.3 254.8,331.2 255.2,259.7 255.9,356.2 256.4,279.5 256.9,370.9 257.8,239.4 258.2,328.8 259.1,264.5 259.9,343.1 260.6,261.7 261.2,358.0 261.6,251.6 262.4,335.3 263.0,249.6" fill="none" stroke="#D95319" stroke-width="0.5" stroke-dasharray="3.8 1.8" stroke-opacity="0.8" stroke-linejoin="round"/>
<polyline points="45.5,307.5 45.5,379.5 57.4,379.5 60.0,367.0 64.2,351.0 68.0,344.0 73.2,338.3 79.6,325.5 81.0,322.0" fill="none" stroke="#EDB120" stroke-width="1.4" stroke-dasharray="1 0.9" stroke-linejoin="round"/>
<polyline points="82.3,279.0 83.0,353.2 83.5,241.3 84.6,363.6 85.7,255.5 86.5,357.9 87.4,236.4 88.5,339.4 89.6,249.3 90.7,369.5 91.5,241.1 92.7,363.0 93.7,248.2 94.5,364.5 95.1,271.0 96.0,326.1 96.7,255.0 97.7,338.0 98.9,253.5 99.6,361.1 100.6,260.7 101.3,379.5 102.3,251.6 103.4,378.4 103.9,256.3 105.0,339.4 105.8,286.8 106.4,345.8 107.0,276.0 108.2,355.2 109.1,237.3 110.0,379.2 110.9,245.8 111.5,357.8 112.6,287.1 113.8,334.1 114.6,280.4 115.5,358.5 116.0,238.5 116.9,353.9 117.8,269.8 118.5,360.9 119.4,274.2 120.5,341.5 121.0,276.3 121.6,334.0 122.6,268.4" fill="none" stroke="#EDB120" stroke-width="0.5" stroke-dasharray="1 0.9" stroke-opacity="0.8" stroke-linejoin="round"/>
<polyline points="137.0,251.0 140.0,247.5 145.0,242.0 150.4,236.0 151.0,235.5 160.5,235.5" fill="none" stroke="#EDB120" stroke-width="1.5" stroke-dasharray="1 0.9" stroke-linejoin="round"/>
<polyline points="160.5,235.5 161.2,379.5 162.4,235.5 163.3,320.0 167.2,338.3 172.0,358.0 176.7,379.0 199.0,379.5" fill="none" stroke="#EDB120" stroke-width="1.4" stroke-dasharray="1 0.9" stroke-linejoin="round"/>
<polyline points="228.7,240.1 229.5,370.1 230.5,243.4 231.5,370.5 232.7,237.8 233.7,353.8 234.7,246.2 235.5,348.2 236.1,249.5 237.3,345.8 238.0,278.5 238.8,341.3 240.0,286.3 240.7,331.7 241.7,247.6 242.4,328.9 243.2,258.0 244.4,327.5 245.0,279.5 245.7,338.2 246.7,257.4 247.4,335.5 248.1,280.2 249.1,342.3 250.0,245.4 250.9,339.6 252.0,240.1 252.8,355.1 254.0,263.4 254.7,328.2 255.9,246.2 256.7,354.0 257.5,274.7 258.8,361.0 259.5,288.9 260.3,345.6 261.4,251.0 262.3,334.0 263.0,272.1" fill="none" stroke="#EDB120" stroke-width="0.5" stroke-dasharray="1 0.9" stroke-opacity="0.7" stroke-linejoin="round"/>
<polyline points="60.2,262.0 61.5,250.0 63.0,235.5 82.3,235.5" fill="none" stroke="#7E2F8E" stroke-width="1.0" stroke-dasharray="3.6 1.2 1 1.2" stroke-linejoin="round"/>
<polyline points="82.3,242.6 83.1,359.9 84.2,275.1 85.0,333.6 85.9,289.4 86.8,371.2 87.8,285.0 88.4,364.2 88.9,263.6 89.7,377.1 90.5,243.2 91.2,368.1 91.9,240.0 92.4,370.1 93.0,260.2 93.7,334.0 94.7,272.7 95.4,329.6 96.0,264.3 96.9,344.9 97.8,283.8 98.5,350.4 99.5,244.7 100.4,326.2 101.1,251.2 101.7,356.0 102.4,288.9 103.5,368.7 104.1,256.2 104.7,346.0 105.5,274.8 106.2,347.3 107.0,278.6 107.6,365.5 108.3,244.2 109.1,365.3 109.7,252.2 110.3,335.9 110.8,261.1 111.7,338.5 112.4,255.2 113.2,334.7 113.8,290.3 114.3,350.7 114.8,254.4 115.5,356.1 116.4,263.9 117.4,350.6 118.0,282.6 118.5,351.7 119.4,257.9 120.3,364.1 121.1,303.7 121.8,350.1 122.7,301.2 123.4,358.0 124.3,271.6 125.1,343.4 126.1,270.6 126.8,352.3 127.6,304.4 128.5,379.0 129.3,282.7 130.2,347.3 131.3,288.7 131.9,343.5 132.5,292.1 133.4,353.7 134.4,302.6 135.1,346.6 136.2,312.9 137.2,362.9 138.0,299.3" fill="none" stroke="#7E2F8E" stroke-width="0.55" stroke-dasharray="3.6 1.2 1 1.2" stroke-opacity="0.85" stroke-linejoin="round"/>
<polyline points="120.0,379.5 138.0,379.5 138.0,325.0 138.0,379.5 178.7,379.5 178.7,351.0 183.0,325.0 190.6,290.0 195.0,283.0 200.3,274.0 203.0,258.0 206.4,237.8 207.0,235.5 263.6,235.5" fill="none" stroke="#7E2F8E" stroke-width="1.0" stroke-dasharray="3.6 1.2 1 1.2" stroke-linejoin="round"/>
<polyline points="228.7,333.1 229.9,376.2 230.8,346.3 231.9,366.1 233.1,343.0 234.0,376.2 234.6,336.2 235.2,360.4 235.9,326.8 237.1,372.6 237.8,331.9 238.8,366.7 239.8,328.0 240.3,362.7 241.2,341.1 242.0,370.3 242.6,332.3 243.3,370.1 244.1,328.8 244.6,372.2 245.2,321.0 246.2,367.6 247.0,327.5 248.0,373.9 249.1,329.4 250.3,375.7 251.4,330.0 252.2,369.1 253.4,326.1 254.3,365.5 255.4,330.0 256.0,372.6 257.1,318.7 258.1,373.2 258.8,321.3 259.4,356.8 260.2,322.8 261.0,354.5 262.0,321.2 262.7,360.9 263.5,328.2" fill="none" stroke="#7E2F8E" stroke-width="0.5" stroke-dasharray="3.6 1.2 1 1.2" stroke-opacity="0.7" stroke-linejoin="round"/>
<polyline points="45.4,325.5 50.0,347.0 56.6,379.5 81.5,379.5 82.0,235.5" fill="none" stroke="#77AC30" stroke-width="1.5" stroke-dasharray="3.6 1.2 1 1.2" stroke-linejoin="round"/>
<polyline points="82.3,236.5 82.8,375.9 83.3,241.7 83.7,371.1 84.1,240.2 84.6,369.8 85.0,245.0 85.4,379.0 85.6,243.7 85.9,372.2 86.1,236.6 86.5,373.0 86.8,240.0 87.1,369.0 87.5,243.0 87.9,378.8 88.4,241.2 88.6,371.9 89.1,236.6 89.4,377.7 89.7,241.2 89.9,378.2 90.4,244.1 90.8,370.8 91.3,245.8 91.5,376.5 91.8,236.6 92.2,376.4 92.5,238.8 93.0,373.5 93.2,243.9 93.5,376.4 93.8,244.3 94.0,375.9 94.5,242.3 94.9,378.3 95.2,243.8 95.5,378.7 95.9,243.3 96.3,369.7 96.8,241.5 97.2,374.4 97.4,239.8 97.7,371.4 98.1,245.4 98.4,376.9 98.7,243.3 99.0,370.7 99.5,235.6 99.7,373.7 100.1,242.1 100.6,374.1 100.9,240.3 101.2,372.6 101.6,237.8 102.0,374.2 102.4,238.9 102.8,379.0 103.1,237.9 103.3,375.3 103.6,241.5 104.0,377.2 104.4,243.8 104.8,371.1 105.2,240.9 105.4,375.1 105.8,240.1 106.2,370.6 106.5,246.1 106.8,373.4 107.2,243.5 107.6,369.5 108.1,240.2 108.4,377.2 108.7,244.7 109.0,369.2 109.3,239.6 109.7,371.6 110.0,245.3 110.5,370.6 110.8,244.6 111.2,377.7 111.6,245.6 111.9,372.6 112.2,235.8 112.4,374.0 112.8,235.6 113.1,373.6 113.5,245.9 113.8,378.3 114.0,242.1 114.3,373.3 114.5,245.9 115.0,376.9 115.4,243.8 115.7,374.7 116.0,241.3 116.5,372.6 116.8,235.7 117.2,369.1 117.5,239.3 117.7,372.4 118.1,237.0 118.5,378.3 118.8,242.1 119.3,372.8 119.7,244.0 120.0,370.7 120.4,244.5 120.6,371.0 121.0,243.0 121.3,379.4 121.7,237.0 122.0,372.8 122.2,238.8 122.5,371.7 122.7,244.3 123.0,372.9 123.5,238.6 123.8,372.6 124.0,236.2 124.3,377.0 124.7,236.5 125.0,372.2 125.3,245.4 125.7,372.2 126.2,240.7 126.4,373.0 126.7,245.9 126.9,375.1 127.1,242.9 127.5,374.6 127.7,238.7 128.0,376.5 128.4,244.7 128.6,371.7 129.1,241.9" fill="none" stroke="#77AC30" stroke-width="0.75" stroke-dasharray="3.6 1.2 1 1.2" stroke-linejoin="round"/>
<polyline points="128.5,235.5 176.4,235.5 177.4,251.0 178.4,265.8 181.3,292.6 185.0,318.0 190.0,345.0 196.6,369.0 201.7,378.5 203.0,379.5 228.7,379.5" fill="none" stroke="#77AC30" stroke-width="1.5" stroke-dasharray="3.6 1.2 1 1.2" stroke-linejoin="round"/>
<polyline points="228.7,238.4 229.0,364.2 229.5,252.4 229.8,358.4 230.3,244.9 230.9,379.0 231.3,242.6 231.9,362.6 232.5,242.7 233.1,376.7 233.5,243.4 233.8,367.1 234.3,255.8 234.7,365.0 235.2,251.1 235.5,366.6 236.0,253.5 236.6,363.1 236.9,249.7 237.3,361.2 237.8,242.0 238.3,373.0 238.6,248.6 239.1,359.3 239.5,255.9 240.0,370.6 240.5,250.1 240.8,358.4 241.3,237.8 241.8,363.6 242.3,253.1 242.8,371.2 243.4,249.3 244.0,378.3 244.5,243.5 245.1,366.8 245.5,251.1 246.1,376.9 246.6,237.5 246.9,360.8 247.3,250.4 247.8,379.0 248.1,252.9 248.5,372.6 248.9,257.1 249.4,366.4 249.7,246.4 250.3,369.7 250.8,245.0 251.4,378.8 251.8,249.6 252.5,364.7 253.0,242.1 253.6,378.7 254.2,253.7 254.7,368.5 255.2,249.1 255.6,374.1 256.1,252.0 256.5,364.9 256.9,246.0 257.2,359.3 257.5,254.9 258.1,360.3 258.5,240.4 259.0,361.4 259.6,238.3 259.9,363.4 260.4,239.9 260.9,373.4 261.2,241.6 261.6,365.1 262.2,238.9 262.8,370.2 263.3,241.8" fill="none" stroke="#77AC30" stroke-width="0.6" stroke-dasharray="3.6 1.2 1 1.2" stroke-opacity="0.9" stroke-linejoin="round"/>
<defs><linearGradient id="satg" x1="0" y1="0" x2="0" y2="1"><stop offset="0" stop-color="#86a54a"/><stop offset="0.15" stop-color="#8a9a5c"/><stop offset="0.35" stop-color="#858570"/><stop offset="0.5" stop-color="#7f7a7c"/><stop offset="0.7" stop-color="#83866e"/><stop offset="0.9" stop-color="#8a9a5c"/><stop offset="1" stop-color="#84a04c"/></linearGradient></defs>
<polygon points="82.1,235.5 125.1,235.5 125.1,379.5 105.3,379.5 93.2,348.3 82.1,326.7" fill="url(#satg)" opacity="0.88"/>
<polygon points="102.0,379.5 109.6,336.3 132.6,326.7 139.1,379.5" fill="#7E2F8E" opacity="0.4"/>
<polygon points="82.1,379.5 82.1,326.7 93.2,348.3 105.3,379.5" fill="#9ab070" opacity="0.75"/>
<polyline points="122.7,238.5 122.9,283.2 123.2,246.5 123.5,276.1 123.8,235.8 124.0,276.8 124.3,238.7 124.5,281.7 124.8,240.1 125.0,277.2 125.2,244.6 125.4,275.8 125.5,241.8 125.8,274.6 126.0,240.2 126.2,277.9 126.5,235.5 126.8,277.0 127.0,245.3 127.3,277.1 127.6,242.5 127.8,275.6 128.0,239.9 128.3,275.9 128.5,243.5 128.8,276.6 129.1,245.4 129.3,269.1 129.5,239.3 129.7,271.2 129.8,244.6 130.1,270.6 130.4,241.6 130.6,266.4 130.8,237.9 131.1,264.3 131.3,237.3 131.5,270.0 131.7,240.7 131.9,269.7 132.1,238.6 132.5,264.5 132.7,237.7 133.0,264.4 133.3,243.0 133.6,260.7 133.7,239.0 134.0,264.9 134.2,237.3 134.3,260.6 134.6,242.5 134.8,263.7 135.1,240.8 135.2,260.2 135.5,240.1 135.7,262.0 135.9,236.1 136.3,262.3 136.5,236.8 136.7,257.5 136.9,235.9 137.2,256.2 137.5,239.5 137.7,256.5 137.9,240.4" fill="none" stroke="#EDB120" stroke-width="1.0" stroke-dasharray="1.1 0.7" stroke-linejoin="round"/>
<polyline points="123.8,311.2 125.6,376.7 127.5,327.2 129.6,377.6 131.0,334.3 132.8,373.0 134.6,326.2 136.6,377.0 137.7,336.5" fill="none" stroke="#EDB120" stroke-width="0.7" stroke-dasharray="1.1 0.7" stroke-opacity="0.8" stroke-linejoin="round"/>
<polyline points="126.0,333.2 126.7,375.6 128.2,335.6 129.4,367.7 130.7,330.7 131.6,369.3 132.9,335.1 134.2,372.2 135.2,332.7 136.4,373.7 137.5,338.7" fill="none" stroke="#D95319" stroke-width="0.6" stroke-dasharray="2 1" stroke-opacity="0.9" stroke-linejoin="round"/>
<polygon points="228.2,285.9 235.2,297.9 263.6,302.7 263.6,379.5 228.2,379.5" fill="#7f967c" opacity="0.85"/>
<rect x="259.7" y="235.5" width="3.9" height="144.0" fill="#8a9a5a" opacity="0.85"/>
<polyline points="45.2,247.6 45.5,285.3 45.7,254.0 45.9,286.9 46.1,257.2 46.4,313.5 46.5,254.0 46.8,301.0 47.0,245.1 47.3,285.0 47.6,271.8 47.8,290.7 48.0,243.5 48.2,292.3 48.4,260.4 48.6,293.8 48.8,251.6 49.1,291.6 49.3,258.5 49.6,315.8 49.8,256.2 50.1,309.1 50.3,272.4 50.4,314.4 50.6,263.8 50.8,293.8 50.9,261.5 51.1,303.5 51.3,271.9 51.5,295.5 51.7,276.0 51.9,313.7 52.1,275.8 52.3,299.5 52.6,273.4 52.9,300.0 53.1,254.7 53.4,289.2 53.6,260.4 53.9,294.5 54.2,253.4 54.5,299.9 54.8,259.2 55.0,290.1 55.2,277.5 55.3,298.1 55.6,273.3 55.9,290.8 56.1,251.8 56.2,304.1 56.5,258.5 56.8,300.6 57.1,257.8 57.4,321.5 57.6,253.7 57.8,311.4 58.0,255.7 58.1,307.4 58.3,273.7 58.5,310.4 58.8,274.9 59.1,301.4 59.3,257.3 59.5,295.5 59.7,263.7 59.9,314.6 60.1,266.2 60.3,296.5 60.5,277.0 60.7,295.3 60.9,275.9 61.2,308.8 61.5,281.8 61.8,303.0 62.1,284.5 62.4,306.7 62.7,282.7 63.0,316.0 63.1,281.6 63.4,325.0 63.6,284.2 63.8,326.8 64.0,271.5 64.2,314.7 64.4,272.5 64.7,322.3 65.0,276.5 65.2,300.6 65.6,271.0 65.8,316.3 66.0,280.9 66.2,314.5 66.4,277.4 66.6,315.6 66.8,275.3 67.1,326.4 67.3,279.5 67.6,319.9 67.8,271.4 68.1,309.7 68.4,289.2 68.8,312.7 69.0,268.8 69.2,327.8 69.5,270.8 69.8,330.2 69.9,268.7 70.2,307.1 70.5,282.6 70.8,326.1 71.0,287.6 71.2,304.1 71.5,272.9 71.7,307.9 72.0,271.0 72.3,316.7 72.6,273.6 72.8,311.8 73.0,294.2 73.2,327.4 73.5,293.4 73.6,313.0 74.0,281.0 74.3,306.4 74.6,292.7 74.9,328.6 75.2,293.5 75.4,315.4 75.6,290.6 75.8,321.3 76.0,283.8 76.3,309.9 76.4,281.6 76.7,309.3 76.8,274.2 77.1,314.6 77.3,273.0 77.5,325.5 77.8,293.6 78.0,310.6 78.2,291.3 78.5,316.9 78.8,289.7 79.1,315.8 79.4,297.0 79.6,314.8 80.0,296.4 80.3,325.3 80.5,279.3 80.7,327.0 81.0,285.0 81.1,314.2 81.3,277.8" fill="none" stroke="#4DBEEE" stroke-width="0.5" stroke-linejoin="round"/>
<polyline points="81.5,278.4 82.0,321.4 82.3,255.6 82.6,331.6 83.0,255.0 83.3,328.9 83.9,246.8 84.4,293.6 84.9,273.1 85.3,308.9 85.8,243.4 86.2,337.4 86.8,277.9 87.3,316.3 87.7,254.9 88.1,328.1 88.5,235.5 89.1,347.2 89.5,235.8 90.0,332.6 90.6,278.4 91.1,317.3 91.6,270.5 92.2,307.8 92.5,275.4 92.9,339.1 93.2,274.5 93.7,333.4 94.3,270.2 94.8,341.2 95.3,278.7 95.8,300.2 96.3,235.5 96.9,301.8 97.3,255.0 97.7,307.9 98.3,269.7 98.7,309.8 99.2,280.8 99.5,334.6 99.8,241.0 100.2,329.5 100.5,276.3 100.9,339.5 101.3,236.7 101.6,359.1 101.9,235.5 102.4,331.9 102.8,236.1 103.4,333.7 103.7,282.6 104.2,355.9 104.8,283.2 105.2,310.5 105.5,274.1 106.1,352.6 106.7,292.0 107.1,315.8 107.4,288.1 108.0,333.9 108.4,251.6 109.0,378.0 109.5,262.6 110.0,341.1 110.4,246.2 110.8,340.1 111.2,264.9 111.6,344.4 112.0,295.1 112.5,318.5 113.0,260.4 113.4,329.8 113.7,272.8 114.1,347.9 114.4,246.7 114.8,314.9 115.2,235.5 115.5,355.4 116.1,273.8 116.6,339.8 116.9,257.2 117.4,336.0 117.8,263.8 118.4,318.0 118.7,282.1 119.0,368.7 119.4,240.8 119.8,333.9 120.3,293.6 120.9,370.8 121.3,278.1 121.9,367.7 122.3,295.8 122.9,317.8 123.4,262.8 123.9,357.3 124.2,237.5 124.7,353.3 125.0,250.9 125.4,359.8 126.0,239.3 126.3,366.4 126.7,250.5 127.1,344.2 127.5,292.4 127.9,363.0 128.2,292.6 128.7,357.0 129.2,292.1 129.5,332.6 130.1,263.9 130.7,324.3 131.1,265.6 131.6,317.5 132.2,269.5 132.5,333.7 132.9,258.2 133.5,335.0 134.0,274.9 134.5,312.2 135.0,287.8 135.5,315.4 135.9,288.8 136.3,330.4 136.7,280.7 137.2,336.6 137.6,275.4 138.0,337.3" fill="none" stroke="#4DBEEE" stroke-width="0.5" stroke-opacity="0.55" stroke-linejoin="round"/>
<polyline points="138.0,274.8 138.2,311.4 138.5,279.2 138.7,306.6 139.0,285.7 139.3,316.1 139.5,279.8 139.9,332.9 140.1,282.3 140.3,326.7 140.5,287.7 140.8,305.6 141.0,279.6 141.3,312.3 141.5,265.7 141.8,327.8 141.9,272.1 142.1,308.5 142.3,278.3 142.5,325.9 142.8,268.0 143.1,322.9 143.3,266.2 143.6,310.4 143.9,274.4 144.1,309.1 144.2,280.8 144.4,310.1 144.6,291.7 144.9,309.4 145.1,288.3 145.3,328.2 145.5,270.0 145.8,318.9 146.0,274.5 146.3,320.3 146.6,273.2 146.8,304.2 147.1,286.0 147.4,307.6 147.6,285.7 147.9,329.1 148.2,280.1 148.4,307.3 148.7,291.7 149.0,318.8 149.2,269.3 149.4,315.9 149.5,266.3 149.7,325.5 149.9,277.2 150.0,303.0 150.3,266.8 150.6,324.8 150.9,281.8 151.0,314.6 151.2,281.8 151.4,313.8 151.6,276.5 151.8,313.5 152.0,283.2 152.2,328.9 152.5,291.8 152.7,309.7 153.0,269.4 153.3,328.2 153.6,272.4 153.9,303.7 154.2,281.0 154.5,317.6 154.7,270.4 154.9,314.9 155.2,294.2 155.4,325.6 155.7,294.5 155.9,324.4 156.1,283.7 156.4,322.2 156.7,294.9 156.8,323.4 157.2,274.6 157.4,310.5 157.6,295.1 157.9,308.9 158.2,284.2 158.4,319.9 158.6,291.6 158.9,307.3 159.1,291.3 159.3,323.3 159.5,291.8 159.8,309.2 160.0,291.9 160.4,308.6 160.5,292.1 160.8,323.2 161.0,280.1 161.3,308.7 161.6,295.8 161.8,316.6 162.1,294.2 162.3,331.4 162.6,295.1 162.8,328.7 163.1,297.4 163.4,318.6 163.6,291.4 163.9,321.2 164.2,303.7 164.4,319.1 164.6,282.6 164.7,315.5 165.1,281.4 165.4,318.7 165.7,302.5 166.0,335.4 166.2,302.9 166.4,333.7 166.7,282.4 167.0,320.2 167.1,300.6 167.5,314.5 167.6,299.2 167.8,319.1 168.0,303.9 168.2,324.9 168.5,288.7 168.7,336.9 168.9,302.4 169.0,319.7 169.3,284.2 169.6,317.0 169.8,294.6 170.0,332.9 170.3,297.6 170.6,334.8 170.8,303.9 171.1,339.1 171.3,289.8 171.5,316.1 171.7,304.6 171.9,319.1 172.1,303.9 172.4,326.0 172.7,298.5 172.8,316.4 173.0,307.3 173.2,329.6 173.5,298.6 173.7,322.2 173.9,287.2 174.2,324.8 174.4,299.4 174.6,339.0 174.8,286.0 175.1,338.2 175.3,298.5 175.6,322.5 175.8,292.8 176.0,330.0 176.2,286.1 176.4,319.3 176.7,303.5 176.9,328.9 177.2,300.1 177.5,319.7 177.7,306.7 177.9,334.2 178.2,310.8 178.4,330.9 178.7,288.3 178.9,330.6 179.0,294.2 179.2,342.3 179.5,309.5 179.9,333.8 180.1,302.7 180.4,334.3 180.6,310.2 180.9,335.5 181.2,313.0 181.3,346.0 181.6,291.6 182.0,342.4 182.3,300.9 182.6,347.0 182.7,298.3 182.9,332.0 183.3,318.4 183.5,334.5 183.8,304.9 184.1,352.2 184.4,318.1 184.7,329.8 185.0,296.9 185.2,331.4 185.5,300.7 185.8,342.9 186.0,301.8 186.1,350.8 186.4,300.0 186.7,341.7 187.1,304.7 187.3,336.7 187.5,319.5 187.7,349.0 187.9,304.4 188.2,345.9 188.4,313.9 188.6,332.5 188.9,303.6 189.2,336.0 189.5,296.4 189.7,355.0 190.0,294.7 190.3,336.4 190.5,308.9 190.7,330.4 191.0,308.6 191.3,348.6 191.5,317.4 191.7,334.6 191.9,320.0 192.1,337.5 192.3,295.6 192.6,339.2 192.8,316.9 193.0,356.5 193.2,312.0 193.5,350.0 193.7,306.0 194.1,354.9 194.2,309.1 194.6,343.1 194.8,302.2 194.9,333.6 195.2,316.6 195.5,349.5 195.7,302.4 195.9,349.0 196.2,312.7 196.3,342.1 196.7,298.5 196.8,332.7 197.0,305.0 197.2,333.8 197.5,308.9 197.7,340.6 198.0,305.6 198.3,332.7 198.6,320.6 198.7,342.8 198.9,321.7 199.1,342.8 199.2,296.6 199.5,343.5 199.8,316.7 200.1,334.5 200.3,319.1 200.7,344.5 200.9,314.4 201.2,337.7 201.5,304.7 201.7,340.7 201.9,312.6 202.1,348.5 202.4,316.7 202.7,343.4 202.9,298.1 203.1,341.3 203.4,294.2 203.7,342.1 204.0,302.6 204.2,352.7 204.5,305.3 204.8,343.4 205.1,318.2 205.4,346.8 205.7,315.0 206.0,333.5 206.2,300.7 206.4,349.7 206.6,313.1 206.9,337.1 207.3,321.6 207.5,357.5 207.8,313.2 208.1,353.4 208.4,301.1 208.6,338.6 208.9,307.7 209.1,364.1 209.3,299.8 209.5,354.0 209.8,316.6 210.1,347.1 210.3,319.3 210.6,360.5 210.9,316.1 211.2,343.6 211.3,306.0 211.6,347.2 211.9,307.2 212.2,341.6 212.5,321.3 212.7,353.0 213.0,297.6 213.2,339.3 213.4,308.3 213.6,342.3 213.9,319.7 214.1,360.0 214.4,317.1 214.6,335.4 214.7,298.8 215.0,339.1 215.3,302.5 215.4,358.0 215.7,318.1 216.0,353.5 216.2,295.4 216.4,345.6 216.6,311.3 216.9,348.9 217.2,290.9 217.3,338.1 217.6,319.6 217.9,341.4 218.2,311.6 218.5,362.0 218.7,319.0 218.9,353.9 219.1,295.0 219.4,338.2 219.7,317.5 219.9,334.2 220.2,321.4 220.5,348.1 220.8,320.7 220.9,341.9 221.3,305.6 221.6,334.5 221.7,322.0 222.0,337.0 222.2,303.1 222.5,341.0 222.7,315.8 223.0,342.0 223.2,316.9 223.4,339.3 223.5,315.1 223.8,339.5 224.0,296.1 224.2,347.2 224.4,294.4 224.7,351.2 225.0,302.0 225.2,343.9 225.4,308.8 225.7,347.9 225.9,298.2 226.2,338.3 226.4,315.3 226.5,358.1 226.8,316.3 227.0,362.5 227.3,303.2 227.5,359.4 227.8,314.4 228.0,366.7 228.4,294.7" fill="none" stroke="#4DBEEE" stroke-width="0.5" stroke-linejoin="round"/>
<polyline points="228.7,318.1 228.9,374.4 229.3,306.1 229.6,373.5 229.9,292.4 230.2,378.0 230.4,317.8 230.7,367.4 231.0,305.5 231.4,361.3 231.8,304.7 232.2,353.5 232.6,295.6 233.0,354.9 233.3,306.5 233.6,365.8 234.0,322.3 234.3,368.2 234.5,320.8 234.9,358.6 235.4,306.4 235.7,367.8 235.9,298.9 236.4,371.5 236.6,322.3 237.0,353.1 237.3,322.5 237.5,363.1 238.0,314.0 238.3,373.7 238.6,304.7 238.9,376.9 239.2,307.0 239.5,373.7 239.8,302.6 240.0,364.0 240.5,316.8 240.8,376.6 241.2,322.1 241.4,356.5 241.7,299.1 242.1,378.5 242.5,305.7 242.9,370.8 243.2,322.6 243.5,361.0 243.9,323.0 244.1,378.8 244.4,314.8 244.7,367.3 245.2,319.4 245.5,364.6 245.9,308.2 246.2,355.6 246.6,322.6 247.1,351.1 247.3,311.3 247.8,368.4 248.2,302.9 248.6,351.8 249.0,321.0 249.3,351.5 249.5,299.7 249.8,353.0 250.1,300.7 250.4,377.3 250.7,322.3 250.9,356.2 251.2,319.8 251.6,355.6 251.8,310.1 252.1,355.1 252.5,311.1 252.8,364.6 253.1,308.1 253.3,360.7 253.5,300.2 253.9,362.4 254.3,298.9 254.5,362.2 254.9,315.5 255.3,377.5 255.5,318.1 255.8,372.9 256.3,306.2 256.7,356.7 257.1,301.9 257.5,354.7 258.0,305.4 258.4,362.0 258.8,299.2 259.3,368.2 259.7,298.3 260.2,370.6 260.6,323.0 261.0,368.0 261.2,304.8 261.4,369.9 261.7,318.1 262.1,357.5 262.4,302.9 262.9,359.6 263.2,307.7 263.5,376.4" fill="none" stroke="#4DBEEE" stroke-width="0.5" stroke-opacity="0.55" stroke-linejoin="round"/>
<polyline points="45.2,250.7 45.4,287.0 45.5,268.4 45.7,294.2 46.1,247.9 46.2,311.7 46.4,254.6 46.7,318.3 47.0,257.3 47.2,299.4 47.4,244.5 47.6,311.2 47.7,242.9 48.1,293.4 48.3,266.9 48.5,300.8 48.6,245.9 48.9,311.5 49.2,270.1 49.3,290.1 49.6,242.5 49.8,306.8 50.1,261.4 50.3,310.9 50.4,266.4 50.6,293.8 50.7,255.9 50.9,309.7 51.2,263.2 51.3,312.8 51.6,241.4 51.8,309.4 52.1,251.0 52.4,298.9 52.7,253.3 52.9,292.1 53.2,267.4 53.4,307.5 53.6,273.3 53.8,311.6 54.1,238.5 54.4,300.3 54.6,260.0 54.9,304.3 55.2,261.5 55.4,307.9 55.6,239.7 55.7,305.3 55.9,254.4 56.0,297.6 56.3,258.0 56.5,307.7 56.7,267.3 57.0,300.4 57.2,246.7 57.4,298.5 57.6,246.9 57.8,297.3 58.1,273.6 58.3,315.4 58.5,245.9 58.7,299.9 58.9,277.3 59.1,318.0 59.3,248.4 59.6,302.5 59.7,261.5 60.0,305.8 60.3,276.0 60.5,300.0 60.8,247.8 61.1,307.4 61.4,250.5 61.6,300.4 61.9,279.5 62.1,333.5 62.4,276.9 62.6,308.7 62.8,259.0 63.1,309.7 63.3,261.4 63.6,314.4 63.7,282.2 63.9,329.2 64.1,264.3 64.3,311.5 64.5,250.4 64.8,304.6 65.0,266.9 65.3,327.5 65.5,255.8 65.8,313.8 66.1,276.0 66.3,312.7 66.6,277.1 66.8,331.5 67.0,265.6 67.3,314.0 67.6,281.1 67.8,306.0 68.1,256.3 68.3,314.3 68.4,284.8 68.7,334.5 68.8,282.0 69.1,310.1 69.4,279.5 69.6,309.8 69.8,277.4 70.0,328.4 70.2,269.8 70.4,314.0 70.6,287.1 70.8,331.4 71.0,289.4 71.2,324.0 71.4,289.4 71.6,315.7 72.0,281.4 72.3,335.3 72.5,288.4 72.8,309.2 73.0,289.6 73.2,318.5 73.4,258.7 73.6,337.1 73.9,269.2 74.2,321.2 74.4,273.3 74.6,323.4 74.8,279.3 75.1,329.4 75.3,269.9 75.6,311.4 75.8,293.4 76.0,340.4 76.2,283.5 76.4,325.6 76.6,271.9 76.8,336.2 77.0,295.3 77.3,312.6 77.6,294.9 77.8,333.7 78.0,278.0 78.2,325.1 78.4,285.4 78.6,330.6 78.8,294.7 78.9,325.9 79.2,297.4 79.5,336.9 79.7,295.2 80.0,342.4 80.2,277.6 80.4,341.0 80.6,296.3 80.8,316.1 81.1,259.2 81.3,307.7" fill="none" stroke="#A2142F" stroke-width="0.55" stroke-dasharray="1.4 0.6" stroke-opacity="0.8" stroke-linejoin="round"/>
<polyline points="81.5,267.2 82.6,331.4 83.8,241.8 84.7,325.4 85.6,241.6 86.7,337.6 87.6,237.9 88.3,314.0 89.2,246.4 89.8,317.3 90.7,235.5 91.9,318.0 92.8,247.2 93.6,324.5 94.7,235.5 95.6,328.7 96.2,263.6 97.4,333.5 98.6,235.5 99.2,334.1 100.1,235.5 101.2,342.1 102.2,251.0 103.2,367.9 103.9,235.5 105.3,362.3 106.6,235.5 107.3,379.5 108.1,235.5 108.8,353.0 109.7,235.5 110.8,350.8 112.1,235.5 113.1,342.8 113.9,258.1 114.8,379.5 115.9,235.5 116.5,352.2 117.7,256.7 118.5,343.0 119.1,253.6 120.1,359.4 121.2,260.1 121.8,372.6 122.6,250.8 123.5,352.6" fill="none" stroke="#A2142F" stroke-width="0.55" stroke-dasharray="1.4 0.6" stroke-opacity="0.75" stroke-linejoin="round"/>
<polyline points="123.8,277.6 124.0,323.6 124.2,264.3 124.3,379.0 124.5,267.1 124.8,317.0 124.9,242.5 125.2,350.9 125.4,245.1 125.6,372.4 126.0,235.5 126.2,363.8 126.5,261.1 126.7,353.0 127.0,238.0 127.2,369.2 127.4,256.7 127.8,318.9 128.0,272.8 128.3,326.9 128.6,289.1 128.9,348.7 129.1,277.5 129.5,314.2 129.7,248.4 130.0,365.5 130.2,292.5 130.4,361.0 130.6,235.8 130.8,314.1 131.1,275.1 131.2,368.6 131.6,288.8 131.8,327.9 132.1,289.4 132.3,335.5 132.5,268.9 132.8,366.9 133.1,240.4 133.4,322.1 133.6,267.6 133.9,343.5 134.1,237.6 134.3,308.8 134.4,283.2 134.7,354.0 134.9,282.1 135.1,349.7 135.4,281.2 135.5,357.5 135.9,258.5 136.1,344.0 136.4,270.2 136.6,331.5 136.9,279.9 137.1,312.5 137.5,285.9 137.7,348.1 138.0,255.4" fill="none" stroke="#A2142F" stroke-width="0.55" stroke-dasharray="1.4 0.6" stroke-opacity="0.85" stroke-linejoin="round"/>
<polyline points="138.0,259.7 138.3,328.1 138.5,265.2 138.8,339.9 138.9,289.6 139.2,324.4 139.5,253.4 139.8,331.9 140.0,267.3 140.3,330.1 140.4,258.0 140.7,336.9 140.9,285.7 141.2,331.3 141.4,288.4 141.6,319.8 141.7,285.1 141.9,320.3 142.2,258.0 142.5,308.7 142.8,271.4 143.1,327.4 143.3,281.5 143.4,329.2 143.6,268.6 143.9,329.1 144.2,263.3 144.5,334.8 144.8,277.4 145.0,326.3 145.3,261.3 145.5,316.8 145.7,262.8 145.9,341.3 146.2,262.0 146.5,341.1 146.7,260.3 146.9,307.1 147.1,281.2 147.5,317.0 147.7,269.1 147.8,314.0 148.1,287.7 148.3,317.5 148.6,281.7 148.9,310.4 149.2,285.0 149.3,313.2 149.7,283.2 149.9,320.2 150.1,275.3 150.2,314.4 150.4,264.9 150.7,326.7 151.0,263.1 151.3,307.1 151.5,268.0 151.8,338.3 152.0,287.4 152.3,324.0 152.6,288.1 152.9,320.0 153.1,259.4 153.3,307.7 153.6,285.2 153.8,313.5 154.0,283.7 154.3,334.8 154.6,263.9 155.0,312.3 155.3,289.9 155.5,308.2 155.7,261.9 155.8,327.6 156.1,291.5 156.4,308.1 156.7,267.5 156.9,318.4 157.1,272.1 157.2,321.0 157.6,273.1 157.7,327.9 158.0,284.7 158.3,322.9 158.5,278.8 158.7,313.9 159.0,284.5 159.3,316.2 159.5,292.5 159.8,329.2 160.2,278.0 160.3,311.8 160.5,278.0 160.7,338.3 160.9,290.6 161.1,313.1 161.3,284.0 161.5,319.5 161.8,290.7 162.1,325.6 162.3,298.0 162.6,338.0 162.7,281.0 162.9,332.0 163.2,281.3 163.4,317.4 163.7,274.8 164.1,328.1 164.2,292.9 164.5,316.2 164.7,300.5 165.0,323.1 165.2,293.6 165.4,325.5 165.6,284.6 165.8,328.8 166.0,291.5 166.3,321.3 166.6,297.2 166.8,337.9 166.9,288.5 167.2,335.4 167.5,284.1 167.7,320.4 167.9,296.8 168.2,318.4 168.5,293.3 168.6,319.2 168.9,279.2 169.2,326.2 169.6,300.2 169.9,345.0 170.0,303.3 170.2,319.2 170.5,288.2 170.8,320.1 171.0,301.6 171.2,333.5 171.5,281.9 171.8,321.0 172.0,301.8 172.2,319.3 172.5,286.5 172.8,330.9 173.1,281.3 173.4,341.9 173.6,297.5 173.8,340.6 174.0,276.0 174.2,329.9 174.5,276.9 174.8,345.5 175.1,300.1 175.4,321.4 175.7,277.9 175.9,323.2 176.2,305.2 176.4,322.3 176.6,283.6 176.9,346.3 177.1,297.0 177.3,344.7 177.5,298.5 177.7,334.2 177.9,306.4 178.0,333.7 178.2,285.1 178.5,349.6 178.7,306.7 178.9,349.4 179.2,292.8 179.4,326.5 179.6,300.5 179.9,355.2 180.2,306.2 180.3,341.8 180.6,283.8 180.7,331.8 180.9,312.2 181.2,354.6 181.4,313.1 181.6,334.3 181.9,286.1 182.2,336.1 182.4,308.4 182.7,336.4 183.0,296.1 183.3,339.2 183.7,299.7 183.9,349.4 184.1,313.6 184.2,348.2 184.4,314.0 184.7,334.1 185.0,309.8 185.2,360.9 185.5,290.6 185.8,348.6 186.2,298.7 186.4,339.5 186.6,300.7 186.8,350.3 187.1,295.3 187.3,332.7 187.5,305.5 187.9,347.3 188.1,299.7 188.3,352.2 188.6,301.7 188.8,335.0 189.0,289.0 189.3,339.6 189.6,303.1 189.8,336.6 190.1,315.7 190.3,339.5 190.5,313.2 190.7,347.4 190.8,298.8 191.1,351.2 191.3,300.0 191.5,345.7 191.8,313.0 192.1,350.1 192.4,300.1 192.7,357.3 192.9,308.6 193.1,356.1 193.4,314.1 193.7,366.4 193.9,285.2 194.2,344.0 194.4,317.9 194.6,356.1 194.9,294.2 195.1,357.2 195.4,300.0 195.6,354.4 195.9,317.0 196.2,356.1 196.4,286.7 196.6,338.4 196.9,309.9 197.0,363.8 197.2,297.3 197.4,349.6 197.7,317.4 198.0,335.7 198.4,289.6 198.6,354.4 198.8,316.0 199.0,347.5 199.4,317.3 199.6,348.7 199.9,294.6 200.1,344.0 200.4,302.2 200.6,351.8 200.9,318.8 201.2,349.9 201.4,316.2 201.6,348.2 201.8,301.4 202.0,355.2 202.3,293.4 202.6,342.0 202.9,303.1 203.1,342.7 203.4,307.0 203.7,342.8 204.0,312.6 204.3,349.2 204.5,301.2 204.7,353.5 205.0,284.8 205.3,338.7 205.6,318.6 205.8,365.5 206.0,318.3 206.1,352.0 206.5,318.4 206.6,337.4 206.8,310.2 207.0,373.2 207.3,288.0 207.5,370.5 207.8,312.6 208.0,351.7 208.2,284.6 208.4,341.9 208.7,290.1 208.9,356.2 209.0,312.6 209.2,352.8 209.5,313.0 209.8,356.2 210.1,280.9 210.3,374.9 210.5,302.7 210.7,338.9 210.9,316.5 211.1,338.9 211.3,313.9 211.5,364.2 211.8,315.3 212.0,375.1 212.3,305.1 212.6,361.4 212.9,290.6 213.1,365.0 213.2,315.7 213.5,341.7 213.7,311.0 214.0,350.3 214.3,282.9 214.6,364.6 214.8,306.8 215.0,359.7 215.3,294.8 215.5,354.0 215.7,307.0 216.0,337.5 216.2,302.2 216.4,363.1 216.6,306.5 216.8,357.2 217.0,294.8 217.3,365.5 217.5,316.2 217.7,344.0 217.9,282.3 218.2,363.5 218.4,297.1 218.5,343.0 218.7,317.9 219.0,374.4 219.2,318.1 219.5,360.2 219.7,290.8 219.8,343.4 220.1,290.8 220.3,353.7 220.6,298.1 220.8,341.9 221.0,313.8 221.2,357.4 221.5,296.6 221.7,359.6 222.0,287.0 222.2,370.6 222.5,287.7 222.8,361.7 223.1,311.8 223.2,360.5 223.4,297.5 223.7,358.1 223.9,312.0 224.1,362.1 224.4,309.2 224.6,351.5 224.9,296.5 225.1,365.5 225.4,292.2 225.8,351.6 226.0,295.6 226.2,368.6 226.4,299.7 226.7,348.7 226.8,311.5 227.1,375.5 227.2,285.8 227.6,368.5 227.8,320.9 228.1,342.2 228.3,287.0 228.5,371.6" fill="none" stroke="#A2142F" stroke-width="0.55" stroke-dasharray="1.4 0.6" stroke-opacity="0.8" stroke-linejoin="round"/>
<polyline points="228.7,318.3 229.2,344.8 229.7,308.2 230.4,353.7 231.0,322.7 231.4,344.7 232.0,305.2 232.7,359.1 233.4,300.1 234.0,377.2 234.4,317.2 234.9,366.5 235.7,302.2 236.0,379.5 236.6,321.0 237.2,367.8 237.9,307.7 238.4,361.7 238.9,315.7 239.5,349.2 239.9,325.0 240.3,364.1 240.9,314.0 241.6,367.4 242.2,318.8 243.0,357.4 243.7,320.7 244.4,370.6 244.8,301.9 245.2,359.1 245.7,317.5 246.2,350.5 246.7,327.0 247.4,358.1 248.0,314.3 248.8,378.6 249.4,298.6 250.1,379.5 250.6,308.4 251.0,358.9 251.5,307.5 251.8,374.0 252.1,315.2 252.7,377.5 253.3,326.0 253.9,354.3 254.5,316.0 255.3,362.6 255.7,320.2 256.4,358.9 256.9,311.8 257.5,379.5 257.9,319.8 258.5,364.7 259.1,306.9 259.5,347.9 259.9,321.1 260.3,357.0 260.7,331.8 261.2,375.0 261.6,329.4 262.3,349.4 262.7,314.6 263.1,376.1" fill="none" stroke="#A2142F" stroke-width="0.5" stroke-dasharray="1.4 0.6" stroke-opacity="0.6" stroke-linejoin="round"/>
<polyline points="236.3,358.5 236.7,375.1 237.3,359.8 237.9,375.6 238.4,359.8 238.7,375.5 239.4,358.8 240.1,377.6 240.6,361.1 241.1,376.2" fill="none" stroke="#D95319" stroke-width="0.55" stroke-opacity="0.85" stroke-linejoin="round"/>
<polyline points="251.6,366.1 252.1,376.5 252.5,366.6 253.1,377.8 253.5,363.9 254.0,377.1 254.4,366.0 254.8,376.2 255.4,362.4 255.9,379.3 256.4,362.5 256.7,377.4 257.3,363.1 257.8,377.0" fill="none" stroke="#77AC30" stroke-width="0.55" stroke-opacity="0.85" stroke-linejoin="round"/>
<polyline points="258.8,358.1 259.2,376.5 259.6,357.5 259.9,377.9 260.2,354.0 260.7,377.2 261.2,350.2 261.7,375.6 262.1,348.4 262.3,376.0 262.7,348.6 263.1,378.5 263.5,345.9" fill="none" stroke="#7E2F8E" stroke-width="0.55" stroke-opacity="0.85" stroke-linejoin="round"/>
</g>
<rect x="224.9" y="216.5" width="33.9" height="87.9" fill="#fff" stroke="#4a4a4a" stroke-width="0.8"/>
<path d="M227,223.5H246.2" stroke="#0072BD" stroke-width="1.0"/>
<text x="247.4" y="226.9" font-family='"Liberation Serif", serif' font-style="italic" font-weight="bold" font-size="10.5" fill="#161616">θ<tspan font-family='"Liberation Serif", serif' font-style="normal" font-size="6.6" dy="1.8">1</tspan></text>
<circle cx="250.6" cy="218.3" r="0.6" fill="#161616"/>
<path d="M227,235.5H246.2" stroke="#D95319" stroke-width="1.1" stroke-dasharray="3.8 1.8"/>
<text x="247.4" y="238.9" font-family='"Liberation Serif", serif' font-style="italic" font-weight="bold" font-size="10.5" fill="#161616">θ<tspan font-family='"Liberation Serif", serif' font-style="normal" font-size="6.6" dy="1.8">2</tspan></text>
<circle cx="250.6" cy="230.3" r="0.6" fill="#161616"/>
<path d="M227,248.0H246.2" stroke="#EDB120" stroke-width="1.2" stroke-dasharray="1 0.9"/>
<text x="247.4" y="251.4" font-family='"Liberation Serif", serif' font-style="italic" font-weight="bold" font-size="10.5" fill="#161616">θ<tspan font-family='"Liberation Serif", serif' font-style="normal" font-size="6.6" dy="1.8">3</tspan></text>
<circle cx="250.6" cy="242.8" r="0.6" fill="#161616"/>
<path d="M227,260.5H246.2" stroke="#7E2F8E" stroke-width="0.8" stroke-dasharray="3.6 1.2 1 1.2"/>
<text x="247.4" y="263.9" font-family='"Liberation Serif", serif' font-style="italic" font-weight="bold" font-size="10.5" fill="#161616">θ<tspan font-family='"Liberation Serif", serif' font-style="normal" font-size="6.6" dy="1.8">4</tspan></text>
<circle cx="250.6" cy="255.3" r="0.6" fill="#161616"/>
<path d="M227,273.0H246.2" stroke="#77AC30" stroke-width="1.3" stroke-dasharray="3.6 1.2 1 1.2"/>
<text x="247.4" y="276.4" font-family='"Liberation Serif", serif' font-style="italic" font-weight="bold" font-size="10.5" fill="#161616">θ<tspan font-family='"Liberation Serif", serif' font-style="normal" font-size="6.6" dy="1.8">5</tspan></text>
<circle cx="250.6" cy="267.8" r="0.6" fill="#161616"/>
<path d="M227,285.5H246.2" stroke="#4DBEEE" stroke-width="0.6"/>
<text x="247.4" y="288.9" font-family='"Liberation Serif", serif' font-style="italic" font-weight="bold" font-size="10.5" fill="#161616">θ<tspan font-family='"Liberation Serif", serif' font-style="normal" font-size="6.6" dy="1.8">6</tspan></text>
<circle cx="250.6" cy="280.3" r="0.6" fill="#161616"/>
<path d="M227,297.5H246.2" stroke="#A2142F" stroke-width="0.6" stroke-dasharray="0.8 0.6" stroke-opacity="0.55"/>
<text x="247.4" y="300.9" font-family='"Liberation Serif", serif' font-style="italic" font-weight="bold" font-size="10.5" fill="#161616">θ<tspan font-family='"Liberation Serif", serif' font-style="normal" font-size="6.6" dy="1.8">7</tspan></text>
<circle cx="250.6" cy="292.3" r="0.6" fill="#161616"/>
<text transform="translate(45.2,417.6) scale(0.95,1)" text-anchor="middle" font-family='"Liberation Sans", sans-serif' font-size="11" fill="#2a2a2a">0</text>
<text transform="translate(88.9,417.6) scale(0.95,1)" text-anchor="middle" font-family='"Liberation Sans", sans-serif' font-size="11" fill="#2a2a2a">2</text>
<text transform="translate(132.6,417.6) scale(0.95,1)" text-anchor="middle" font-family='"Liberation Sans", sans-serif' font-size="11" fill="#2a2a2a">4</text>
<text transform="translate(176.2,417.6) scale(0.95,1)" text-anchor="middle" font-family='"Liberation Sans", sans-serif' font-size="11" fill="#2a2a2a">6</text>
<text transform="translate(219.9,417.6) scale(0.95,1)" text-anchor="middle" font-family='"Liberation Sans", sans-serif' font-size="11" fill="#2a2a2a">8</text>
<text transform="translate(263.6,417.6) scale(0.95,1)" text-anchor="middle" font-family='"Liberation Sans", sans-serif' font-size="11" fill="#2a2a2a">10</text>
<text transform="translate(41.4,407.8) scale(0.95,1)" text-anchor="end" font-family='"Liberation Sans", sans-serif' font-size="11" fill="#2a2a2a">-0.4</text>
<text transform="translate(41.4,383.8) scale(0.95,1)" text-anchor="end" font-family='"Liberation Sans", sans-serif' font-size="11" fill="#2a2a2a">-0.3</text>
<text transform="translate(41.4,359.8) scale(0.95,1)" text-anchor="end" font-family='"Liberation Sans", sans-serif' font-size="11" fill="#2a2a2a">-0.2</text>
<text transform="translate(41.4,335.8) scale(0.95,1)" text-anchor="end" font-family='"Liberation Sans", sans-serif' font-size="11" fill="#2a2a2a">-0.1</text>
<text transform="translate(41.4,311.8) scale(0.95,1)" text-anchor="end" font-family='"Liberation Sans", sans-serif' font-size="11" fill="#2a2a2a">0</text>
<text transform="translate(41.4,287.8) scale(0.95,1)" text-anchor="end" font-family='"Liberation Sans", sans-serif' font-size="11" fill="#2a2a2a">0.1</text>
<text transform="translate(41.4,263.8) scale(0.95,1)" text-anchor="end" font-family='"Liberation Sans", sans-serif' font-size="11" fill="#2a2a2a">0.2</text>
<text transform="translate(41.4,239.8) scale(0.95,1)" text-anchor="end" font-family='"Liberation Sans", sans-serif' font-size="11" fill="#2a2a2a">0.3</text>
<text transform="translate(41.4,215.8) scale(0.95,1)" text-anchor="end" font-family='"Liberation Sans", sans-serif' font-size="11" fill="#2a2a2a">0.4</text>
<text x="262" y="399.6" text-anchor="end" textLength="42.5" lengthAdjust="spacingAndGlyphs" font-family='"Liberation Serif", serif'  font-size="12.6" fill="#1c1c1c" stroke="#1c1c1c" stroke-width="0.1">Time (s)</text>
<text transform="translate(17.5,303) rotate(-90)" text-anchor="middle" textLength="136" lengthAdjust="spacingAndGlyphs" font-family='"Liberation Serif", serif'  font-size="10.8" fill="#1c1c1c" stroke="#1c1c1c" stroke-width="0.1">Joint angular velocity (rad/s)</text>
</g>
</svg>
</body></html>
